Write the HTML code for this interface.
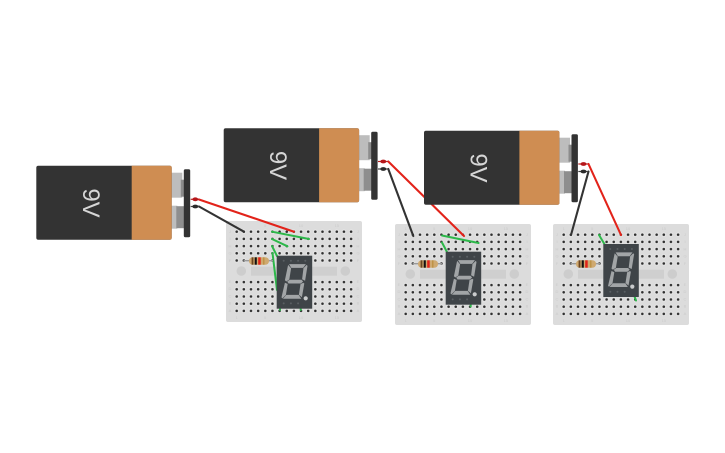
<!DOCTYPE html>
<html><head><meta charset="utf-8"><style>
html,body{margin:0;padding:0;background:#fff}
svg{display:block}
text{font-family:"Liberation Sans",sans-serif}
.l{font-size:4px;fill:#cbcbcb;text-anchor:middle}
</style></head><body>
<svg width="725" height="453" viewBox="0 0 725 453" xmlns="http://www.w3.org/2000/svg">
<defs>
<pattern id="d" patternUnits="userSpaceOnUse" x="7.12" y="7.1" width="7.15" height="7.2">
<circle cx="3.58" cy="3.6" r="2.2" fill="#eaeaea"/><circle cx="3.58" cy="3.6" r="1.3" fill="#303030"/>
</pattern>
<g id="board">
<rect width="136" height="101" rx="2" fill="#dcdcdc"/>
<rect x="7.12" y="7.1" width="121.55" height="36" fill="url(#d)"/>
<rect x="7.12" y="57.1" width="121.55" height="36" fill="url(#d)"/>
<rect x="25" y="45.7" width="86" height="9" fill="#cfcfcf"/>
<circle cx="15.3" cy="50" r="4.8" fill="#cdcdcd"/><circle cx="119.3" cy="50" r="4.8" fill="#cdcdcd"/>
<g class="l">
<text class="l" x="10.7" y="6">1</text><text class="l" x="39.3" y="6">5</text><text class="l" x="75" y="6">10</text><text class="l" x="110.8" y="6">15</text>
<text class="l" x="10.7" y="98">1</text><text class="l" x="39.3" y="98">5</text><text class="l" x="75" y="98">10</text><text class="l" x="110.8" y="98">15</text>
<text class="l" x="4" y="12">J</text><text class="l" x="4" y="19.2">I</text><text class="l" x="4" y="26.4">H</text><text class="l" x="4" y="33.6">G</text><text class="l" x="4" y="40.8">F</text>
<text class="l" x="4" y="62">E</text><text class="l" x="4" y="69.2">D</text><text class="l" x="4" y="76.4">C</text><text class="l" x="4" y="83.6">B</text><text class="l" x="4" y="90.8">A</text>
<text class="l" x="132" y="12">J</text><text class="l" x="132" y="19.2">I</text><text class="l" x="132" y="26.4">H</text><text class="l" x="132" y="33.6">G</text><text class="l" x="132" y="40.8">F</text>
<text class="l" x="132" y="62">E</text><text class="l" x="132" y="69.2">D</text><text class="l" x="132" y="76.4">C</text><text class="l" x="132" y="83.6">B</text><text class="l" x="132" y="90.8">A</text>
</g>
</g>
<g id="res">
<path d="M17.5 39.7H47" stroke="#9a9a9a" stroke-width="1.4" fill="none"/>
<rect x="23" y="36.2" width="20" height="7.6" rx="3.6" fill="#cfa970"/>
<rect x="25.6" y="36.3" width="1.8" height="7.4" fill="#6b4520"/>
<rect x="28.7" y="36.3" width="2.1" height="7.4" fill="#111"/>
<rect x="32.2" y="36.3" width="2.5" height="7.4" fill="#e2231a"/>
<rect x="37.2" y="36.3" width="1.2" height="7.4" fill="#b98d3c"/>
</g>
<g id="disp">
<rect width="35.5" height="53" fill="#3f4448"/>
<g fill="#5a5f63">
<circle cx="7" cy="5" r="1"/><circle cx="14.2" cy="5" r="1"/><circle cx="21.4" cy="5" r="1"/><circle cx="28.6" cy="5" r="1"/>
<circle cx="7" cy="47.7" r="1"/><circle cx="14.2" cy="47.7" r="1"/><circle cx="21.4" cy="47.7" r="1"/>
</g>
<g fill="#a2a5a7">
<polygon points="12.3,8.4 29.2,8.4 26.4,12.2 14.6,12.2"/>
<polygon points="11.4,9.2 14.4,12.6 12.6,23.8 9.6,25.8 8.2,24.6"/>
<polygon points="30,9.2 30.8,10.2 28.4,25 25.4,23.6 26.8,12.4"/>
<polygon points="10.5,25.8 13,24 24.8,24 26.4,25.8 24.2,27.8 11.8,27.8"/>
<polygon points="8.2,27 11,28.2 9.2,39.2 5.6,42.8 4.8,41.6"/>
<polygon points="26.6,27 27.6,27.8 25.2,41.6 22.2,39 23.8,28.4"/>
<polygon points="9.6,39.2 22,39.2 24.6,43 6.2,43"/>
</g>
<circle cx="29" cy="42.6" r="2.1" fill="#c9cbcc"/>
</g>
<g id="bat">
<rect x="135" y="7" width="11" height="25" fill="#bdbdbd"/>
<rect x="144.5" y="14" width="3.5" height="17" fill="#8c8c8c"/>
<rect x="135" y="40" width="6" height="23" fill="#bdbdbd"/>
<rect x="140" y="40.5" width="8" height="22" fill="#8e8e8e"/>
<rect x="147.5" y="3.6" width="6.4" height="68" rx="1.5" fill="#333"/>
<rect x="0" y="0" width="135.4" height="74" rx="2" fill="#333"/>
<path d="M95.4 0H133.4a2 2 0 0 1 2 2V72a2 2 0 0 1-2 2H95.4Z" fill="#cf8d52"/>
<text x="0" y="0" transform="translate(55,37.3) rotate(90)" font-size="24" text-anchor="middle" dy="8.5" fill="#d6d6d6">9V</text>
</g>
</defs>

<use href="#board" x="226" y="221"/>
<use href="#board" x="395" y="224"/>
<use href="#board" x="553" y="224"/>

<g stroke="#2db84a" stroke-width="2" fill="none" stroke-linecap="round">
<path d="M272 231.7L309 239M272 239L287.5 246.3M272 246L277 256M272.5 253L277 290M280 307V310M300.7 307V310"/>
<path d="M442 235.5L478.5 243M442 242.5L447 252M470.7 303V306.5"/>
<path d="M599 235L605 245M634 295L636 300.5"/>
</g>

<use href="#res" x="226" y="221"/>
<use href="#res" x="395" y="224"/>
<use href="#res" x="553" y="224"/>
<use href="#disp" x="276.7" y="255.7"/>
<use href="#disp" x="445.7" y="251.7"/>
<use href="#disp" x="603.3" y="244"/>

<g fill="none" stroke-width="2.1" stroke-linecap="round" stroke-linejoin="round">
<path d="M199 199.5L294 231.7" stroke="#e2231a"/>
<path d="M199 206.5L244 231.7" stroke="#333"/>
<path d="M388.3 161.5L464 236" stroke="#e2231a"/>
<path d="M388.3 169L413.3 236" stroke="#333"/>
<path d="M588.5 164L621 235" stroke="#e2231a"/>
<path d="M588.5 171.5L571 235" stroke="#333"/>
</g>

<use href="#bat" x="36.3" y="165.7"/>
<use href="#bat" x="223.7" y="128.2"/>
<use href="#bat" x="424" y="130.7"/>

<g>
<path d="M190.7 199.3H199" stroke="#b22" stroke-width="1.2"/><ellipse cx="195.3" cy="199.3" rx="3" ry="1.9" fill="#b5161a"/>
<path d="M190.7 206.5H199" stroke="#444" stroke-width="1.2"/><ellipse cx="195.3" cy="206.5" rx="3" ry="1.9" fill="#2b2b2b"/>
<path d="M378 161.5H388" stroke="#b22" stroke-width="1.2"/><ellipse cx="383.3" cy="161.5" rx="3" ry="1.9" fill="#b5161a"/>
<path d="M378 169H388" stroke="#444" stroke-width="1.2"/><ellipse cx="383.3" cy="169" rx="3" ry="1.9" fill="#2b2b2b"/>
<path d="M578.3 164H588" stroke="#b22" stroke-width="1.2"/><ellipse cx="583.5" cy="164" rx="3" ry="1.9" fill="#b5161a"/>
<path d="M578.3 171.5H588" stroke="#444" stroke-width="1.2"/><ellipse cx="583.5" cy="171.5" rx="3" ry="1.9" fill="#2b2b2b"/>
</g>
</svg>
</body></html>
